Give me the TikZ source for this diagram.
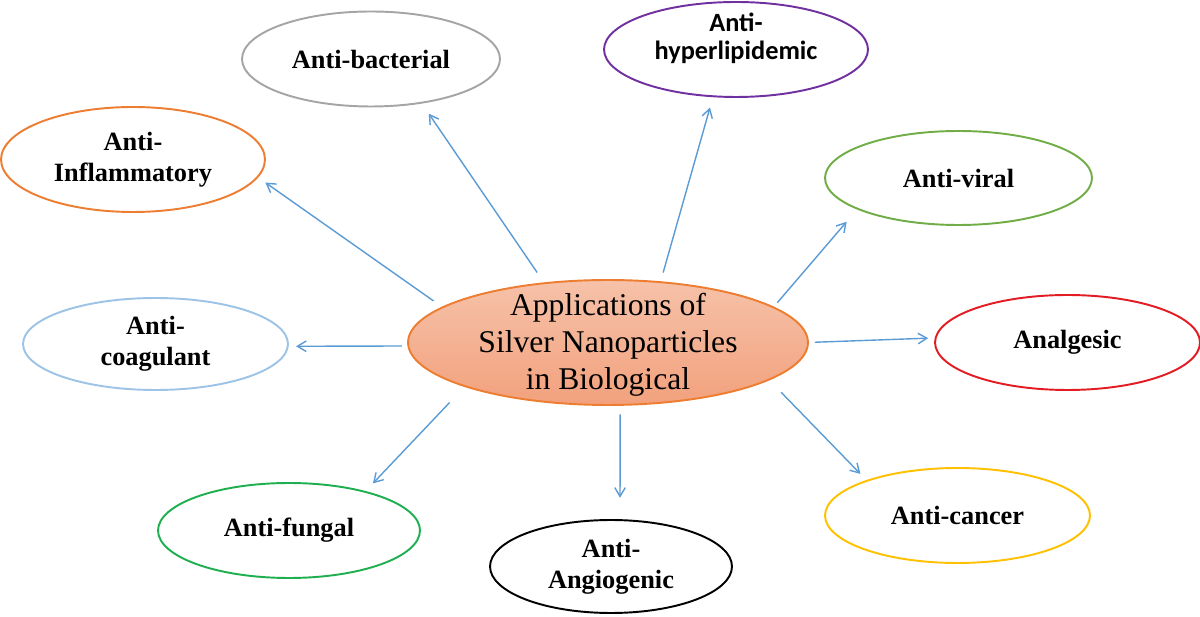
\documentclass[tikz,border=0pt]{standalone}
\usepackage{fontspec}
\setmainfont{Liberation Serif}
\newfontfamily\calibrifont{Carlito}
\usetikzlibrary{arrows.meta, shapes.geometric}

\definecolor{hubtop}{HTML}{F6C2A9}
\definecolor{hubbottom}{HTML}{F2A17D}
\definecolor{corange}{HTML}{ED7D31}
\definecolor{cgray}{HTML}{A5A5A5}
\definecolor{cpurple}{HTML}{7030A0}
\definecolor{cleaf}{HTML}{70AD47}
\definecolor{cpale}{HTML}{9DC3E6}
\definecolor{cred}{HTML}{E31B23}
\definecolor{cgreen}{HTML}{1FAF50}
\definecolor{cgold}{HTML}{FFC000}
\definecolor{cblue}{HTML}{5B9BD5}

\begin{document}
\begin{tikzpicture}[
	  x=0.02cm, y=-0.02cm,
	  hub/.style={
	  	ellipse,
	  	draw=corange,
	  	line width=1.1pt,
	  	top color=hubtop,
	  	bottom color=hubbottom,
	  	minimum width=8cm,
	  	minimum height=2.5cm,
	  	inner sep=0pt,
	  	outer sep=0pt
	  },
	  hubtext/.style={
	  	align=center,
	  	font=\fontsize{18}{21}\selectfont
	  },
	  effect/.style={
	  	ellipse,
	  	draw,
	  	line width=1.1pt,
	  	minimum width=5.28cm,
	  	minimum height=1.9cm,
	  	inner sep=0pt,
	  	outer sep=0pt,
	  	align=center,
	  	font=\bfseries\fontsize{15}{17.5}\selectfont
	  },
	  link/.style={
	  	draw=cblue,
	  	line width=0.8pt,
	  	-{Straight Barb[length=5pt,width=6pt]}
	  }]
	\useasboundingbox (0,0) rectangle (1200,617);
	% Centre
	\node[hub] (apps) at (608,342.5) {};
	\node[hubtext] (apps-txt) at (608,345) {Applications of\\Silver Nanoparticles\\in Biological};
	% Effects
	\node[effect, draw=cgray, minimum width=5.16cm] (bac) at (371,59) {Anti-bacterial};
	\node[effect, draw=cpurple] (hyp) at (736,49.5) {};
	\node[align=center, font=\calibrifont\bfseries\fontsize{15}{16}\selectfont] (hyp-txt) at (736,38) {Anti-\\hyperlipidemic};
	\node[effect, draw=corange, minimum height=2.1cm] (inf) at (133,159.5) {Anti-\\Inflammatory};
	\node[effect, draw=cleaf, minimum width=5.34cm, minimum height=1.88cm] (vir) at (958.5,178) {Anti-viral};
	\node[effect, draw=cpale, minimum width=5.3cm, minimum height=1.84cm] (coa) at (155.5,344) {Anti-\\coagulant};
	\node[effect, draw=cred, minimum width=5.3cm] (ana) at (1067.5,342.5) {Analgesic};
	\node[effect, draw=cgreen, minimum width=5.24cm] (fun) at (289,530.5) {Anti-fungal};
	\node[effect, draw=black, minimum width=4.84cm, minimum height=1.86cm] (ang) at (611,566.5) {Anti-\\Angiogenic};
	\node[effect, draw=cgold, minimum width=5.3cm] (can) at (957.5,515.5) {Anti-cancer};
	% Links
	\draw[link, shorten <=0.26cm, shorten >=0.265cm] (apps.137) -- (bac.-41.6);
	\draw[link, shorten <=0.2cm, shorten >=0.234cm] (apps.49.1) -- (hyp.-116);
	\draw[link, shorten <=0.224cm, shorten >=0.194cm] (apps.168.8) -- (inf.-8.2);
	\draw[link, shorten <=0.123cm, shorten >=0.341cm] (apps.12.1) -- (vir.-163.8);
	\draw[link, shorten <=0.132cm, shorten >=0.166cm] (apps.181.4) -- (coa.-1.3);
	\draw[link, shorten <=0.14cm, shorten >=0.15cm] (apps.0.7) -- (ana.178.9);
	\draw[link, shorten <=0.448cm, shorten >=0.232cm] (apps.-163.9) -- (fun.27.35);
	\draw[link, shorten <=0.192cm, shorten >=0.448cm] (apps.-79.6) -- (ang.79.6);
	\draw[link, shorten <=0.353cm, shorten >=0.193cm] (apps.-13.7) -- (can.159.4);
\end{tikzpicture}
\end{document}
